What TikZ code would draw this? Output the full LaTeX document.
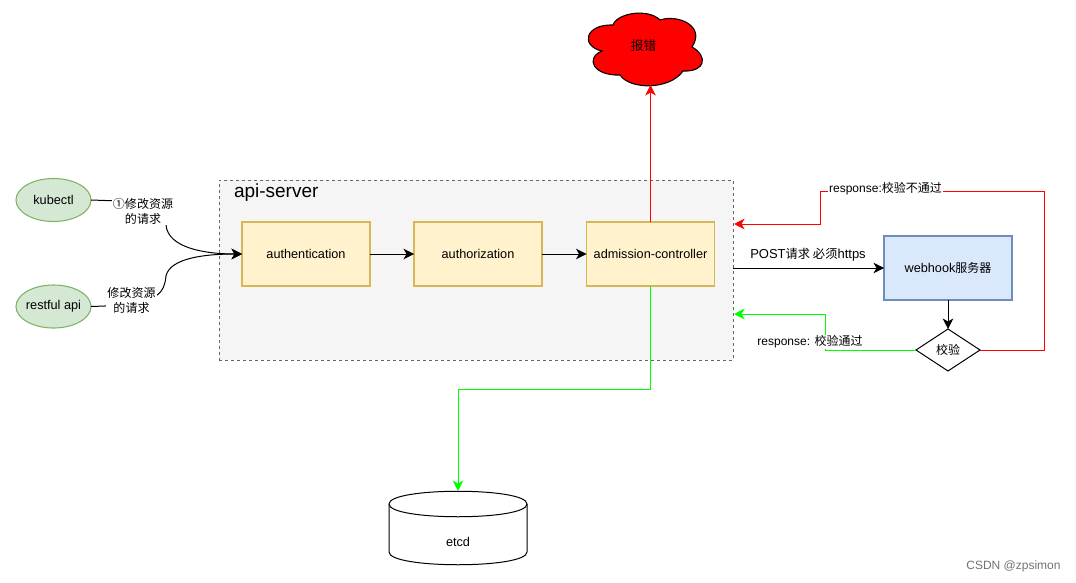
\documentclass[tikz,border=0pt]{standalone}
\usepackage{fontspec}
\setmainfont{Liberation Sans}
\newfontfamily\cjk[Scale=0.945]{Noto Sans CJK SC}
\usetikzlibrary{arrows.meta,shapes.geometric}
\definecolor{pgreen}{HTML}{D5E8D4}
\definecolor{pgreend}{HTML}{82B366}
\definecolor{pyel}{HTML}{FFF2CC}
\definecolor{pyeld}{HTML}{D6B656}
\definecolor{pblue}{HTML}{DAE8FC}
\definecolor{pblued}{HTML}{6C8EBF}
\definecolor{lime}{HTML}{00FF00}
\newcommand{\zhtext}[1]{{\fontsize{12.7}{15}\selectfont\cjk #1}}
\tikzset{
  every node/.style={font=\fontsize{12.7}{15}\selectfont, inner sep=0pt, outer sep=0pt, text=black},
  client/.style={ellipse, draw=pgreend, fill=pgreen, line width=1.1pt, inner xsep=-6pt, minimum width=75pt, minimum height=43pt},
  stage/.style={rectangle, draw=pyeld, fill=pyel, line width=1.1pt, minimum width=128pt, minimum height=64pt},
  conn/.style={line width=1pt, -{Stealth[length=10.5pt,width=10.5pt,inset=3pt]}},
  lbl/.style={fill=white, align=center, inner sep=1pt},
  resplbl/.style={lbl, font=\fontsize{12}{15}\selectfont},
  plainlbl/.style={align=center},
}
\begin{document}
\begin{tikzpicture}[x=1pt,y=-1pt]
\useasboundingbox (0,0) rectangle (1076,583);
\fill[white] (0,0) rectangle (1076,583);

% api-server container
\node[rectangle, draw=black!60, fill=black!4, dash pattern=on 3pt off 3pt, line width=1pt, minimum width=514pt, minimum height=180pt] (server) at (476,270) {};
\node[anchor=west, font=\fontsize{19}{22}\selectfont] (servertitle) at (234,193) {api-server};

% clients
\node[client] (kubectl) at (53.5,200) {kubectl};
\node[client] (restful) at (53.5,306.5) {restful api};

% stages
\node[stage] (authn) at (306,254) {\raisebox{1pt}{authentication}};
\node[stage] (authz) at (478,254) {\raisebox{1pt}{authorization}};
\node[stage] (adm) at (650.5,254) {\raisebox{1pt}{admission-controller}};

% webhook + check
\node[rectangle, draw=pblued, fill=pblue, line width=1.1pt, minimum width=128pt, minimum height=64pt] (webhook) at (948,268) {webhook{\cjk 服务器}};
\node[diamond, draw=black, fill=white, line width=1pt, minimum width=64pt, minimum height=42pt, aspect=1.52] (check) at (948,350) {\cjk 校验};

% cloud
\draw[black, fill=red, line width=1.1pt]
  (613,25) .. controls (617,13) and (648,8) .. (660,20)
  .. controls (678,14) and (706,26) .. (692,47)
  .. controls (708,56) and (706,72) .. (683,71)
  .. controls (670,90) and (630,90) .. (620,75)
  .. controls (593,76) and (585,58) .. (602,51)
  .. controls (580,46) and (585,24) .. (613,25) -- cycle;
\node[minimum width=115pt, minimum height=73pt] (cloud) at (645.5,48.5) {};
\node[font=\fontsize{13.4}{15}\selectfont] (cloudtext) at (643.5,46) {\cjk 报错};

% etcd cylinder
\draw[black, fill=white, line width=1pt]
  (389,504) .. controls (389,487) and (527,487) .. (527,504)
  -- (527,552) .. controls (527,569) and (389,569) .. (389,552) -- cycle;
\draw[black, line width=1pt] (389,504) .. controls (389,521) and (527,521) .. (527,504);
\node[minimum width=138pt, minimum height=74pt] (etcd) at (458,528) {};
\node (etcdtext) at (458,542) {etcd};

% labels on the two client lines
\coordinate (kmid) at (120,201);
\coordinate (rmid) at (150,298);

% client connectors
\draw[conn] (kubectl.east) -- (kmid) .. controls (150,201) and (165,205) .. (166,225)
   .. controls (168,248) and (205,254) .. (authn.west);
\draw[conn] (restful.east) -- (105,306) -- (rmid) .. controls (160,296) and (165,288) .. (166,276)
   .. controls (170,258) and (205,254) .. (authn.west);
\node[lbl] (klabel) at (143,211) {{\cjk ①修改资源}\\[0pt]{\cjk 的请求}};
\node[lbl] (rlabel) at (131.5,300) {{\cjk 修改资源}\\[0pt]{\cjk 的请求}};

% pipeline connectors
\draw[conn] (authn) -- (authz);
\draw[conn] (authz) -- (adm);
\draw[conn,red] (adm.north) -- (adm.north |- cloud.south);
\draw[conn,lime] (adm.south) -- ++(0,103) -| (etcd.north);
\coordinate (postfrom) at (733,268);
\draw[conn] (postfrom) -- (webhook.west);
\node[plainlbl, font=\fontsize{13}{15}\selectfont] (postlabel) at (808,255) {POST{\cjk 请求 必须}https};
\draw[conn] (webhook.south) -- (check.north);

% results
\coordinate (redend) at (734,224);
\coordinate (greenend) at (734,314);
\draw[conn,red] (check.east) -- (1044,350) -- (1044,191) -- (820,191) -- (820,224) -- (redend);
\node[resplbl] (redlabel) at (885.5,189) {response:\zhtext{校验不通过}};
\draw[conn,lime] (check.west) -- (825,350) -- (825,314) -- (greenend);
\node[resplbl] (greenlabel) at (810,342) {response: \zhtext{校验通过}};

% watermark
\node[text=black!55, font=\fontsize{12}{14}\selectfont] (mark) at (1013.5,566.5) {CSDN @zpsimon};
\end{tikzpicture}
\end{document}
